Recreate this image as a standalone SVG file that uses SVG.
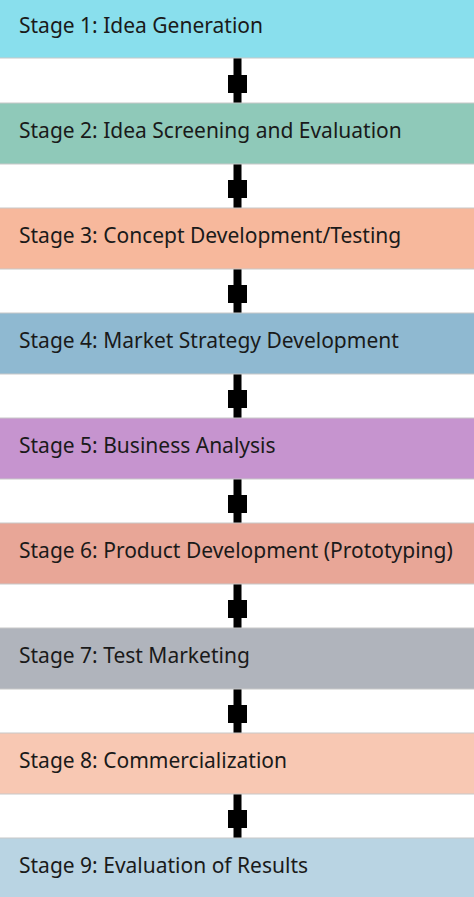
<svg xmlns="http://www.w3.org/2000/svg" width="474" height="897" viewBox="0 0 474 897">
<style>
.box{stroke:#c8c8c8;stroke-width:1}
.lbl{font-family:"Noto Sans","Open Sans","DejaVu Sans",sans-serif;font-size:21px;fill:#1a1a1a}
.con{fill:#000}
</style>
<defs>
<path id="c" class="con" d="M233.5 0 H241.5 V18 H247 V36 H241.5 V46 H233.5 V36 H228 V18 H233.5 Z"/>
</defs>
<rect width="474" height="897" fill="#fff"/>
<g id="connectors">
<use href="#c" y="57"/>
<use href="#c" y="162"/>
<use href="#c" y="267"/>
<use href="#c" y="372"/>
<use href="#c" y="477"/>
<use href="#c" y="582"/>
<use href="#c" y="687"/>
<use href="#c" y="792"/>
</g>
<g id="n1"><rect class="box" x="-1" y="-2" width="476" height="60" fill="#89dfed"/><text class="lbl" x="19" y="33">Stage 1: Idea Generation</text></g>
<g id="n2"><rect class="box" x="-1" y="103" width="476" height="61" fill="#8fc9b9"/><text class="lbl" x="19" y="138">Stage 2: Idea Screening and Evaluation</text></g>
<g id="n3"><rect class="box" x="-1" y="208" width="476" height="61" fill="#f7b89c"/><text class="lbl" x="19" y="243">Stage 3: Concept Development/Testing</text></g>
<g id="n4"><rect class="box" x="-1" y="313" width="476" height="61" fill="#8fb9d1"/><text class="lbl" x="19" y="348">Stage 4: Market Strategy Development</text></g>
<g id="n5"><rect class="box" x="-1" y="418" width="476" height="61" fill="#c694cf"/><text class="lbl" x="19" y="453">Stage 5: Business Analysis</text></g>
<g id="n6"><rect class="box" x="-1" y="523" width="476" height="61" fill="#e8a697"/><text class="lbl" x="19" y="558">Stage 6: Product Development (Prototyping)</text></g>
<g id="n7"><rect class="box" x="-1" y="628" width="476" height="61" fill="#b0b4bc"/><text class="lbl" x="19" y="663">Stage 7: Test Marketing</text></g>
<g id="n8"><rect class="box" x="-1" y="733" width="476" height="61" fill="#f8c8b3"/><text class="lbl" x="19" y="768">Stage 8: Commercialization</text></g>
<g id="n9"><rect class="box" x="-1" y="838" width="476" height="61" fill="#b9d4e3"/><text class="lbl" x="19" y="873">Stage 9: Evaluation of Results</text></g>
</svg>
